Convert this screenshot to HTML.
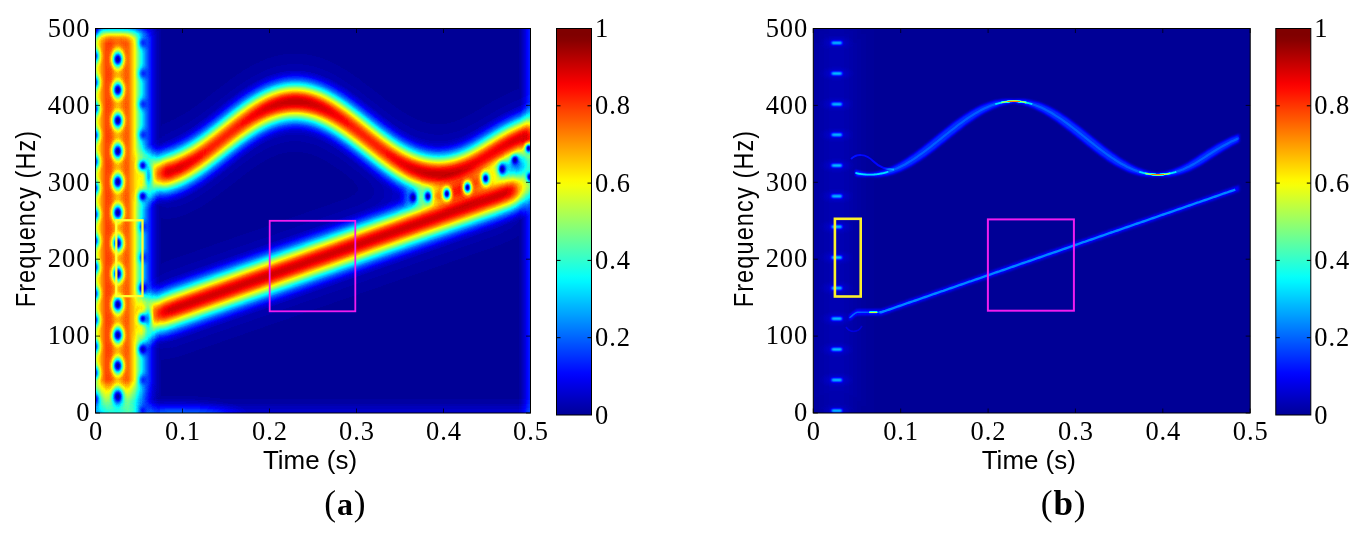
<!DOCTYPE html>
<html><head><meta charset="utf-8"><title>Figure</title>
<style>html,body{margin:0;padding:0;background:#fff}svg{display:block}.tk{font-family:"Liberation Serif",serif;font-size:26.5px;fill:#000;letter-spacing:0.9px}.lb{font-family:"Liberation Sans",sans-serif;font-size:26px;fill:#000}.cap{font-family:"Liberation Serif",serif;font-size:29px;fill:#000}</style></head><body>
<svg width="1366" height="537" viewBox="0 0 1366 537">
<defs>
<filter id="jetA" filterUnits="userSpaceOnUse" x="0" y="0" width="1366" height="537" color-interpolation-filters="sRGB">
<feComponentTransfer><feFuncR type="table" tableValues="0 0 0 0 0 0 0 0 0 0 0 0 0 0 0 0 0 0 0 0 0 0 0 0 0 0 0 0 0 0 0.001 0.048 0.095 0.142 0.189 0.236 0.283 0.331 0.378 0.425 0.472 0.519 0.566 0.613 0.66 0.707 0.754 0.801 0.848 0.895 0.942 0.989 1 1 1 1 1 1 1 1 1 1 1 1 1 1 1 1 1 1 1 1 1 0.977 0.929 0.882 0.835 0.788 0.741 0.694 0.647 0.6 0.553 0.506 0.5 0.5 0.5 0.5 0.5 0.5 0.5 0.5 0.5 0.5 0.5 0.5 0.5 0.5 0.5 0.5 0.5 0.5 0.5 0.5 0.5 0.5 0.5 0.5 0.5 0.5 0.5 0.5 0.5 0.5 0.5 0.5 0.5 0.5 0.5 0.5 0.5 0.5 0.5 0.5 0.5 0.5 0.5 0.5 0.5 0.5 0.5 0.5 0.5 0.5 0.5 0.5 0.5 0.5 0.5 0.5 0.5 0.5 0.5 0.5 0.5 0.5 0.5 0.5 0.5 0.5 0.5 0.5 0.5 0.5 0.5 0.5 0.5 0.5 0.5 0.5 0.5 0.5 0.5 0.5 0.5 0.5 0.5 0.5 0.5 0.5 0.5 0.5 0.5 0.5 0.5 0.5 0.5 0.5 0.5 0.5 0.5 0.5 0.5 0.5 0.5 0.5 0.5 0.5 0.5 0.5 0.5 0.5 0.5 0.5 0.5 0.5 0.5 0.5 0.5 0.5 0.5 0.5 0.5 0.5 0.5 0.5 0.5 0.5 0.5 0.5 0.5 0.5 0.5 0.5 0.5 0.5 0.5 0.5 0.5 0.5 0.5 0.5 0.5 0.5 0.5 0.5 0.5 0.5 0.5 0.5 0.5 0.5 0.5 0.5 0.5 0.5 0.5 0.5 0.5 0.5 0.5 0.5 0.5 0.5 0.5 0.5 0.5 0.5 0.5 0.5 0.5 0.5 0.5 0.5 0.5 0.5"/><feFuncG type="table" tableValues="0 0 0 0 0 0 0 0 0 0.014 0.061 0.108 0.155 0.202 0.249 0.296 0.343 0.39 0.437 0.484 0.531 0.578 0.625 0.672 0.719 0.766 0.813 0.86 0.907 0.954 1 1 1 1 1 1 1 1 1 1 1 1 1 1 1 1 1 1 1 1 1 1 0.964 0.917 0.87 0.823 0.776 0.729 0.682 0.635 0.588 0.541 0.494 0.447 0.4 0.353 0.306 0.259 0.212 0.165 0.118 0.071 0.024 0 0 0 0 0 0 0 0 0 0 0 0 0 0 0 0 0 0 0 0 0 0 0 0 0 0 0 0 0 0 0 0 0 0 0 0 0 0 0 0 0 0 0 0 0 0 0 0 0 0 0 0 0 0 0 0 0 0 0 0 0 0 0 0 0 0 0 0 0 0 0 0 0 0 0 0 0 0 0 0 0 0 0 0 0 0 0 0 0 0 0 0 0 0 0 0 0 0 0 0 0 0 0 0 0 0 0 0 0 0 0 0 0 0 0 0 0 0 0 0 0 0 0 0 0 0 0 0 0 0 0 0 0 0 0 0 0 0 0 0 0 0 0 0 0 0 0 0 0 0 0 0 0 0 0 0 0 0 0 0 0 0 0 0 0 0 0 0 0 0 0 0 0 0 0 0 0 0 0 0 0 0 0"/><feFuncB type="table" tableValues="0.591 0.638 0.685 0.732 0.779 0.826 0.873 0.92 0.967 1 1 1 1 1 1 1 1 1 1 1 1 1 1 1 1 1 1 1 1 1 0.999 0.952 0.905 0.858 0.811 0.764 0.717 0.669 0.622 0.575 0.528 0.481 0.434 0.387 0.34 0.293 0.246 0.199 0.152 0.105 0.058 0.011 0 0 0 0 0 0 0 0 0 0 0 0 0 0 0 0 0 0 0 0 0 0 0 0 0 0 0 0 0 0 0 0 0 0 0 0 0 0 0 0 0 0 0 0 0 0 0 0 0 0 0 0 0 0 0 0 0 0 0 0 0 0 0 0 0 0 0 0 0 0 0 0 0 0 0 0 0 0 0 0 0 0 0 0 0 0 0 0 0 0 0 0 0 0 0 0 0 0 0 0 0 0 0 0 0 0 0 0 0 0 0 0 0 0 0 0 0 0 0 0 0 0 0 0 0 0 0 0 0 0 0 0 0 0 0 0 0 0 0 0 0 0 0 0 0 0 0 0 0 0 0 0 0 0 0 0 0 0 0 0 0 0 0 0 0 0 0 0 0 0 0 0 0 0 0 0 0 0 0 0 0 0 0 0 0 0 0 0 0 0 0 0 0 0 0 0 0 0 0 0 0 0 0 0"/></feComponentTransfer></filter>
<filter id="jetB" filterUnits="userSpaceOnUse" x="0" y="0" width="1366" height="537" color-interpolation-filters="sRGB">
<feComponentTransfer><feFuncR type="table" tableValues="0 0 0 0 0 0 0 0 0 0 0 0 0 0 0 0 0 0 0 0 0 0 0 0 0 0 0 0 0 0 0 0 0 0 0 0 0 0 0 0 0 0 0 0 0 0 0 0 0 0 0 0 0 0 0 0 0 0 0 0 0 0 0 0 0 0 0 0 0 0 0 0 0 0 0 0 0 0 0 0 0 0 0 0 0 0 0 0 0 0 0.002 0.018 0.034 0.049 0.065 0.081 0.096 0.112 0.128 0.143 0.159 0.175 0.191 0.206 0.222 0.238 0.253 0.269 0.285 0.3 0.316 0.332 0.347 0.363 0.379 0.394 0.41 0.426 0.441 0.457 0.473 0.489 0.504 0.52 0.536 0.551 0.567 0.583 0.598 0.614 0.63 0.645 0.661 0.677 0.692 0.708 0.724 0.74 0.755 0.771 0.787 0.802 0.818 0.834 0.849 0.865 0.881 0.896 0.912 0.928 0.943 0.959 0.975 0.99 1 1 1 1 1 1 1 1 1 1 1 1 1 1 1 1 1 1 1 1 1 1 1 1 1 1 1 1 1 1 1 1 1 1 1 1 1 1 1 1 1 1 1 1 1 1 1 1 1 1 1 1 1 1 1 1 1 1 1 1 1 1 1 1 0.99 0.974 0.959 0.943 0.927 0.911 0.896 0.88 0.864 0.849 0.833 0.817 0.802 0.786 0.77 0.755 0.739 0.723 0.708 0.692 0.676 0.66 0.645 0.629 0.613 0.598 0.582 0.566 0.551 0.535 0.519 0.504 0.5 0.5 0.5 0.5 0.5 0.5"/><feFuncG type="table" tableValues="0 0 0 0 0 0 0 0 0 0 0 0 0 0 0 0 0 0 0 0 0 0 0 0 0 0 0 0.014 0.03 0.045 0.061 0.077 0.092 0.108 0.124 0.14 0.155 0.171 0.187 0.202 0.218 0.234 0.249 0.265 0.281 0.296 0.312 0.328 0.343 0.359 0.375 0.391 0.406 0.422 0.438 0.453 0.469 0.485 0.5 0.516 0.532 0.547 0.563 0.579 0.594 0.61 0.626 0.641 0.657 0.673 0.689 0.704 0.72 0.736 0.751 0.767 0.783 0.798 0.814 0.83 0.845 0.861 0.877 0.892 0.908 0.924 0.94 0.955 0.971 0.987 1 1 1 1 1 1 1 1 1 1 1 1 1 1 1 1 1 1 1 1 1 1 1 1 1 1 1 1 1 1 1 1 1 1 1 1 1 1 1 1 1 1 1 1 1 1 1 1 1 1 1 1 1 1 1 1 1 1 1 1 1 1 1 1 0.994 0.978 0.962 0.947 0.931 0.915 0.9 0.884 0.868 0.853 0.837 0.821 0.806 0.79 0.774 0.759 0.743 0.727 0.711 0.696 0.68 0.664 0.649 0.633 0.617 0.602 0.586 0.57 0.555 0.539 0.523 0.508 0.492 0.476 0.46 0.445 0.429 0.413 0.398 0.382 0.366 0.351 0.335 0.319 0.304 0.288 0.272 0.257 0.241 0.225 0.209 0.194 0.178 0.162 0.147 0.131 0.115 0.1 0.084 0.068 0.053 0.037 0.021 0.006 0 0 0 0 0 0 0 0 0 0 0 0 0 0 0 0 0 0 0 0 0 0 0 0 0 0 0 0 0 0 0 0 0 0 0 0 0 0"/><feFuncB type="table" tableValues="0.591 0.606 0.622 0.638 0.653 0.669 0.685 0.7 0.716 0.732 0.747 0.763 0.779 0.794 0.81 0.826 0.841 0.857 0.873 0.889 0.904 0.92 0.936 0.951 0.967 0.983 0.998 1 1 1 1 1 1 1 1 1 1 1 1 1 1 1 1 1 1 1 1 1 1 1 1 1 1 1 1 1 1 1 1 1 1 1 1 1 1 1 1 1 1 1 1 1 1 1 1 1 1 1 1 1 1 1 1 1 1 1 1 1 1 1 0.998 0.982 0.966 0.951 0.935 0.919 0.904 0.888 0.872 0.857 0.841 0.825 0.809 0.794 0.778 0.762 0.747 0.731 0.715 0.7 0.684 0.668 0.653 0.637 0.621 0.606 0.59 0.574 0.559 0.543 0.527 0.511 0.496 0.48 0.464 0.449 0.433 0.417 0.402 0.386 0.37 0.355 0.339 0.323 0.308 0.292 0.276 0.26 0.245 0.229 0.213 0.198 0.182 0.166 0.151 0.135 0.119 0.104 0.088 0.072 0.057 0.041 0.025 0.01 0 0 0 0 0 0 0 0 0 0 0 0 0 0 0 0 0 0 0 0 0 0 0 0 0 0 0 0 0 0 0 0 0 0 0 0 0 0 0 0 0 0 0 0 0 0 0 0 0 0 0 0 0 0 0 0 0 0 0 0 0 0 0 0 0 0 0 0 0 0 0 0 0 0 0 0 0 0 0 0 0 0 0 0 0 0 0 0 0 0 0 0 0 0 0 0 0 0 0 0 0 0"/></feComponentTransfer></filter>
<filter id="bR" filterUnits="userSpaceOnUse" x="0" y="-100" width="1366" height="737" color-interpolation-filters="sRGB"><feGaussianBlur stdDeviation="7.4 11.6"/></filter>
<filter id="bBand" filterUnits="userSpaceOnUse" x="0" y="-100" width="1366" height="737" color-interpolation-filters="sRGB"><feGaussianBlur stdDeviation="7.4 5.3"/></filter>
<filter id="bE" filterUnits="userSpaceOnUse" x="0" y="-100" width="1366" height="737" color-interpolation-filters="sRGB"><feGaussianBlur stdDeviation="4.5 7"/></filter>
<filter id="bS" filterUnits="userSpaceOnUse" x="0" y="-100" width="1366" height="737" color-interpolation-filters="sRGB"><feGaussianBlur stdDeviation="1.3 1"/></filter>
<filter id="bT" filterUnits="userSpaceOnUse" x="0" y="-100" width="1366" height="737" color-interpolation-filters="sRGB"><feGaussianBlur stdDeviation="0.7 0.6"/></filter>
<filter id="bG" filterUnits="userSpaceOnUse" x="0" y="-100" width="1366" height="737" color-interpolation-filters="sRGB"><feGaussianBlur stdDeviation="7 3.5"/></filter>
<filter id="bH" filterUnits="userSpaceOnUse" x="0" y="-100" width="1366" height="737" color-interpolation-filters="sRGB"><feGaussianBlur stdDeviation="14 20"/></filter>
<filter id="bF" filterUnits="userSpaceOnUse" x="0" y="-100" width="1366" height="737" color-interpolation-filters="sRGB"><feGaussianBlur stdDeviation="6 5"/></filter>
<linearGradient id="fadeB" x1="0" y1="0" x2="0" y2="1"><stop offset="0" stop-color="#000" stop-opacity="0"/><stop offset="0.3" stop-color="#000" stop-opacity="0.2"/><stop offset="1" stop-color="#000" stop-opacity="0.58"/></linearGradient>
<filter id="bW" filterUnits="userSpaceOnUse" x="0" y="-100" width="1366" height="737" color-interpolation-filters="sRGB"><feGaussianBlur stdDeviation="16 7"/></filter>
<radialGradient id="dot"><stop offset="0.0" stop-color="#000" stop-opacity="1.000"/><stop offset="0.1" stop-color="#000" stop-opacity="0.956"/><stop offset="0.2" stop-color="#000" stop-opacity="0.835"/><stop offset="0.3" stop-color="#000" stop-opacity="0.667"/><stop offset="0.4" stop-color="#000" stop-opacity="0.487"/><stop offset="0.5" stop-color="#000" stop-opacity="0.325"/><stop offset="0.6" stop-color="#000" stop-opacity="0.198"/><stop offset="0.7" stop-color="#000" stop-opacity="0.110"/><stop offset="0.8" stop-color="#000" stop-opacity="0.056"/><stop offset="0.9" stop-color="#000" stop-opacity="0.026"/><stop offset="1.0" stop-color="#000" stop-opacity="0.000"/></radialGradient>
<radialGradient id="dot2"><stop offset="0.0" stop-color="#000" stop-opacity="0.900"/><stop offset="0.1" stop-color="#000" stop-opacity="0.860"/><stop offset="0.2" stop-color="#000" stop-opacity="0.752"/><stop offset="0.3" stop-color="#000" stop-opacity="0.600"/><stop offset="0.4" stop-color="#000" stop-opacity="0.438"/><stop offset="0.5" stop-color="#000" stop-opacity="0.292"/><stop offset="0.6" stop-color="#000" stop-opacity="0.178"/><stop offset="0.7" stop-color="#000" stop-opacity="0.099"/><stop offset="0.8" stop-color="#000" stop-opacity="0.051"/><stop offset="0.9" stop-color="#000" stop-opacity="0.024"/><stop offset="1.0" stop-color="#000" stop-opacity="0.000"/></radialGradient>
<radialGradient id="dot3"><stop offset="0.0" stop-color="#000" stop-opacity="0.380"/><stop offset="0.1" stop-color="#000" stop-opacity="0.363"/><stop offset="0.2" stop-color="#000" stop-opacity="0.317"/><stop offset="0.3" stop-color="#000" stop-opacity="0.253"/><stop offset="0.4" stop-color="#000" stop-opacity="0.185"/><stop offset="0.5" stop-color="#000" stop-opacity="0.123"/><stop offset="0.6" stop-color="#000" stop-opacity="0.075"/><stop offset="0.7" stop-color="#000" stop-opacity="0.042"/><stop offset="0.8" stop-color="#000" stop-opacity="0.021"/><stop offset="0.9" stop-color="#000" stop-opacity="0.010"/><stop offset="1.0" stop-color="#000" stop-opacity="0.000"/></radialGradient>
<radialGradient id="dot4"><stop offset="0.0" stop-color="#000" stop-opacity="0.550"/><stop offset="0.1" stop-color="#000" stop-opacity="0.526"/><stop offset="0.2" stop-color="#000" stop-opacity="0.459"/><stop offset="0.3" stop-color="#000" stop-opacity="0.367"/><stop offset="0.4" stop-color="#000" stop-opacity="0.268"/><stop offset="0.5" stop-color="#000" stop-opacity="0.179"/><stop offset="0.6" stop-color="#000" stop-opacity="0.109"/><stop offset="0.7" stop-color="#000" stop-opacity="0.061"/><stop offset="0.8" stop-color="#000" stop-opacity="0.031"/><stop offset="0.9" stop-color="#000" stop-opacity="0.014"/><stop offset="1.0" stop-color="#000" stop-opacity="0.000"/></radialGradient>
<radialGradient id="dot5"><stop offset="0.0" stop-color="#000" stop-opacity="0.600"/><stop offset="0.1" stop-color="#000" stop-opacity="0.574"/><stop offset="0.2" stop-color="#000" stop-opacity="0.501"/><stop offset="0.3" stop-color="#000" stop-opacity="0.400"/><stop offset="0.4" stop-color="#000" stop-opacity="0.292"/><stop offset="0.5" stop-color="#000" stop-opacity="0.195"/><stop offset="0.6" stop-color="#000" stop-opacity="0.119"/><stop offset="0.7" stop-color="#000" stop-opacity="0.066"/><stop offset="0.8" stop-color="#000" stop-opacity="0.034"/><stop offset="0.9" stop-color="#000" stop-opacity="0.016"/><stop offset="1.0" stop-color="#000" stop-opacity="0.000"/></radialGradient>
<radialGradient id="dot6"><stop offset="0.0" stop-color="#000" stop-opacity="0.300"/><stop offset="0.1" stop-color="#000" stop-opacity="0.287"/><stop offset="0.2" stop-color="#000" stop-opacity="0.251"/><stop offset="0.3" stop-color="#000" stop-opacity="0.200"/><stop offset="0.4" stop-color="#000" stop-opacity="0.146"/><stop offset="0.5" stop-color="#000" stop-opacity="0.097"/><stop offset="0.6" stop-color="#000" stop-opacity="0.059"/><stop offset="0.7" stop-color="#000" stop-opacity="0.033"/><stop offset="0.8" stop-color="#000" stop-opacity="0.017"/><stop offset="0.9" stop-color="#000" stop-opacity="0.008"/><stop offset="1.0" stop-color="#000" stop-opacity="0.000"/></radialGradient>
<linearGradient id="cb" x1="0" y1="0" x2="0" y2="1"><stop offset="0.0000" stop-color="rgb(128,0,0)"/><stop offset="0.0156" stop-color="rgb(128,0,0)"/><stop offset="0.0312" stop-color="rgb(136,0,0)"/><stop offset="0.0469" stop-color="rgb(152,0,0)"/><stop offset="0.0625" stop-color="rgb(168,0,0)"/><stop offset="0.0781" stop-color="rgb(184,0,0)"/><stop offset="0.0938" stop-color="rgb(200,0,0)"/><stop offset="0.1094" stop-color="rgb(216,0,0)"/><stop offset="0.1250" stop-color="rgb(232,0,0)"/><stop offset="0.1406" stop-color="rgb(248,0,0)"/><stop offset="0.1562" stop-color="rgb(255,9,0)"/><stop offset="0.1719" stop-color="rgb(255,25,0)"/><stop offset="0.1875" stop-color="rgb(255,41,0)"/><stop offset="0.2031" stop-color="rgb(255,57,0)"/><stop offset="0.2188" stop-color="rgb(255,73,0)"/><stop offset="0.2344" stop-color="rgb(255,88,0)"/><stop offset="0.2500" stop-color="rgb(255,104,0)"/><stop offset="0.2656" stop-color="rgb(255,120,0)"/><stop offset="0.2812" stop-color="rgb(255,136,0)"/><stop offset="0.2969" stop-color="rgb(255,152,0)"/><stop offset="0.3125" stop-color="rgb(255,168,0)"/><stop offset="0.3281" stop-color="rgb(255,184,0)"/><stop offset="0.3438" stop-color="rgb(255,200,0)"/><stop offset="0.3594" stop-color="rgb(255,216,0)"/><stop offset="0.3750" stop-color="rgb(255,232,0)"/><stop offset="0.3906" stop-color="rgb(255,248,0)"/><stop offset="0.4062" stop-color="rgb(246,255,9)"/><stop offset="0.4219" stop-color="rgb(230,255,25)"/><stop offset="0.4375" stop-color="rgb(214,255,41)"/><stop offset="0.4531" stop-color="rgb(198,255,57)"/><stop offset="0.4688" stop-color="rgb(182,255,73)"/><stop offset="0.4844" stop-color="rgb(167,255,88)"/><stop offset="0.5000" stop-color="rgb(151,255,104)"/><stop offset="0.5156" stop-color="rgb(135,255,120)"/><stop offset="0.5312" stop-color="rgb(119,255,136)"/><stop offset="0.5469" stop-color="rgb(103,255,152)"/><stop offset="0.5625" stop-color="rgb(87,255,168)"/><stop offset="0.5781" stop-color="rgb(71,255,184)"/><stop offset="0.5938" stop-color="rgb(55,255,200)"/><stop offset="0.6094" stop-color="rgb(39,255,216)"/><stop offset="0.6250" stop-color="rgb(23,255,232)"/><stop offset="0.6406" stop-color="rgb(7,255,248)"/><stop offset="0.6562" stop-color="rgb(0,246,255)"/><stop offset="0.6719" stop-color="rgb(0,230,255)"/><stop offset="0.6875" stop-color="rgb(0,214,255)"/><stop offset="0.7031" stop-color="rgb(0,198,255)"/><stop offset="0.7188" stop-color="rgb(0,182,255)"/><stop offset="0.7344" stop-color="rgb(0,167,255)"/><stop offset="0.7500" stop-color="rgb(0,151,255)"/><stop offset="0.7656" stop-color="rgb(0,135,255)"/><stop offset="0.7812" stop-color="rgb(0,119,255)"/><stop offset="0.7969" stop-color="rgb(0,103,255)"/><stop offset="0.8125" stop-color="rgb(0,87,255)"/><stop offset="0.8281" stop-color="rgb(0,71,255)"/><stop offset="0.8438" stop-color="rgb(0,55,255)"/><stop offset="0.8594" stop-color="rgb(0,39,255)"/><stop offset="0.8750" stop-color="rgb(0,23,255)"/><stop offset="0.8906" stop-color="rgb(0,7,255)"/><stop offset="0.9062" stop-color="rgb(0,0,246)"/><stop offset="0.9219" stop-color="rgb(0,0,230)"/><stop offset="0.9375" stop-color="rgb(0,0,214)"/><stop offset="0.9531" stop-color="rgb(0,0,198)"/><stop offset="0.9688" stop-color="rgb(0,0,182)"/><stop offset="0.9844" stop-color="rgb(0,0,167)"/><stop offset="1.0000" stop-color="rgb(0,0,151)"/></linearGradient>
<clipPath id="clipA"><rect x="95.5" y="28.5" width="435" height="384.5"/></clipPath>
<clipPath id="clipB"><rect x="813.3" y="28.5" width="436.9" height="384.5"/></clipPath>
</defs>
<rect width="1366" height="537" fill="#fff"/>
<g clip-path="url(#clipA)"><g filter="url(#jetA)">
<rect x="60" y="0" width="520" height="450" fill="#000"/>
<g filter="url(#bE)" fill="#fff" fill-opacity="0.043">
<rect x="60" y="26" width="94" height="390"/>
</g>
<g filter="url(#bBand)"><rect x="94" y="31.7" width="44.4" height="393.3" fill="#fff" fill-opacity="0.238"/></g>
<g filter="url(#bE)" fill="#fff" fill-opacity="0.100">
<rect x="138" y="154.7" width="15" height="44"/>
<rect x="138" y="298.6" width="15" height="40"/>
</g>
<g filter="url(#bE)" fill="#fff">
<rect x="526" y="0" width="30" height="450" fill-opacity="0.053"/>
<rect x="523" y="150" width="30" height="42" fill-opacity="0.080"/>
<rect x="60" y="409" width="500" height="30" fill-opacity="0.027"/>
</g>
<g filter="url(#bH)" fill="#fff" fill-opacity="0.052">
<polygon points="153.5,159.7 156.5,159.5 159.5,159.2 162.5,158.7 165.5,158.0 168.5,157.2 171.5,156.3 174.5,155.2 177.5,154.0 180.5,152.6 183.5,151.1 186.5,149.5 189.5,147.8 192.5,146.0 195.5,144.0 198.5,142.0 201.5,139.9 204.5,137.7 207.5,135.5 210.5,133.2 213.5,130.9 216.5,128.5 219.5,126.1 222.5,123.7 225.5,121.3 228.5,118.9 231.5,116.5 234.5,114.1 237.5,111.8 240.5,109.5 243.5,107.3 246.5,105.1 249.5,103.1 252.5,101.1 255.5,99.2 258.5,97.4 261.5,95.7 264.5,94.2 267.5,92.7 270.5,91.4 273.5,90.2 276.5,89.2 279.5,88.3 282.5,87.6 285.5,87.0 288.5,86.6 291.5,86.3 294.5,86.2 297.5,86.3 300.5,86.5 303.5,86.8 306.5,87.3 309.5,88.0 312.5,88.8 315.5,89.8 318.5,90.9 321.5,92.2 324.5,93.6 327.5,95.1 330.5,96.7 333.5,98.5 336.5,100.3 339.5,102.3 342.5,104.3 345.5,106.4 348.5,108.6 351.5,110.9 354.5,113.2 357.5,115.5 360.5,117.9 363.5,120.3 366.5,122.7 369.5,125.1 372.5,127.5 375.5,129.9 378.5,132.3 381.5,134.6 384.5,136.8 387.5,139.1 390.5,141.2 393.5,143.2 396.5,145.2 399.5,147.1 402.5,148.9 405.5,150.5 408.5,152.0 411.5,153.5 414.5,154.7 417.5,155.9 420.5,156.9 423.5,157.7 426.5,158.4 429.5,159.0 432.5,159.4 435.5,159.6 438.5,159.7 441.5,159.6 444.5,159.4 447.5,159.0 450.5,158.4 453.5,157.7 456.5,156.9 459.5,155.9 462.5,154.7 465.5,153.5 468.5,152.0 471.5,150.5 474.5,148.9 477.5,147.1 480.5,145.2 483.5,143.3 486.5,141.3 489.5,139.4 492.5,137.5 495.5,135.6 498.5,133.8 501.5,132.1 504.5,130.4 507.5,128.8 510.5,127.2 513.5,125.8 516.5,124.4 519.5,123.1 522.5,121.9 525.5,120.7 528.5,119.5 531.5,118.3 534.5,117.1 537.5,115.9 540.5,114.7 543.5,113.6 546.5,112.4 549.5,111.2 552.5,110.1 555.5,109.0 558.5,107.9 561.5,106.8 564.5,105.7 567.5,104.6 570.5,103.6 573.5,102.6 573.5,132.6 570.5,133.6 567.5,134.6 564.5,135.7 561.5,136.8 558.5,137.9 555.5,139.0 552.5,140.1 549.5,141.2 546.5,142.4 543.5,143.6 540.5,144.7 537.5,145.9 534.5,147.1 531.5,148.3 528.5,149.5 525.5,150.7 522.5,151.9 519.5,153.1 516.5,154.4 513.5,155.8 510.5,157.2 507.5,158.8 504.5,160.4 501.5,162.1 498.5,163.8 495.5,165.6 492.5,167.5 489.5,169.4 486.5,171.3 483.5,173.3 480.5,175.2 477.5,177.1 474.5,178.9 471.5,180.5 468.5,182.0 465.5,183.5 462.5,184.7 459.5,185.9 456.5,186.9 453.5,187.7 450.5,188.4 447.5,189.0 444.5,189.4 441.5,189.6 438.5,189.7 435.5,189.6 432.5,189.4 429.5,189.0 426.5,188.4 423.5,187.7 420.5,186.9 417.5,185.9 414.5,184.7 411.5,183.5 408.5,182.0 405.5,180.5 402.5,178.9 399.5,177.1 396.5,175.2 393.5,173.2 390.5,171.2 387.5,169.1 384.5,166.8 381.5,164.6 378.5,162.3 375.5,159.9 372.5,157.5 369.5,155.1 366.5,152.7 363.5,150.3 360.5,147.9 357.5,145.5 354.5,143.2 351.5,140.9 348.5,138.6 345.5,136.4 342.5,134.3 339.5,132.3 336.5,130.3 333.5,128.5 330.5,126.7 327.5,125.1 324.5,123.6 321.5,122.2 318.5,120.9 315.5,119.8 312.5,118.8 309.5,118.0 306.5,117.3 303.5,116.8 300.5,116.5 297.5,116.3 294.5,116.2 291.5,116.3 288.5,116.6 285.5,117.0 282.5,117.6 279.5,118.3 276.5,119.2 273.5,120.2 270.5,121.4 267.5,122.7 264.5,124.2 261.5,125.7 258.5,127.4 255.5,129.2 252.5,131.1 249.5,133.1 246.5,135.1 243.5,137.3 240.5,139.5 237.5,141.8 234.5,144.1 231.5,146.5 228.5,148.9 225.5,151.3 222.5,153.7 219.5,156.1 216.5,158.5 213.5,160.9 210.5,163.2 207.5,165.5 204.5,167.7 201.5,169.9 198.5,172.0 195.5,174.0 192.5,176.0 189.5,177.8 186.5,179.5 183.5,181.1 180.5,182.6 177.5,184.0 174.5,185.2 171.5,186.3 168.5,187.2 165.5,188.0 162.5,188.7 159.5,189.2 156.5,189.5 153.5,189.7"/>
<polygon points="147.5,302.7 150.5,301.7 153.5,300.6 156.5,299.6 159.5,298.5 162.5,297.5 165.5,296.4 168.5,295.4 171.5,294.4 174.5,293.3 177.5,292.3 180.5,291.2 183.5,290.2 186.5,289.1 189.5,288.1 192.5,287.0 195.5,286.0 198.5,285.0 201.5,283.9 204.5,282.9 207.5,281.8 210.5,280.8 213.5,279.7 216.5,278.7 219.5,277.6 222.5,276.6 225.5,275.6 228.5,274.5 231.5,273.5 234.5,272.4 237.5,271.4 240.5,270.3 243.5,269.3 246.5,268.3 249.5,267.2 252.5,266.2 255.5,265.1 258.5,264.1 261.5,263.0 264.5,262.0 267.5,260.9 270.5,259.9 273.5,258.9 276.5,257.8 279.5,256.8 282.5,255.7 285.5,254.7 288.5,253.6 291.5,252.6 294.5,251.5 297.5,250.5 300.5,249.5 303.5,248.4 306.5,247.4 309.5,246.3 312.5,245.3 315.5,244.2 318.5,243.2 321.5,242.2 324.5,241.1 327.5,240.1 330.5,239.0 333.5,238.0 336.5,236.9 339.5,235.9 342.5,234.8 345.5,233.8 348.5,232.8 351.5,231.7 354.5,230.7 357.5,229.6 360.5,228.6 363.5,227.5 366.5,226.5 369.5,225.4 372.5,224.4 375.5,223.4 378.5,222.3 381.5,221.3 384.5,220.2 387.5,219.2 390.5,218.1 393.5,217.1 396.5,216.1 399.5,215.0 402.5,214.0 405.5,212.9 408.5,211.9 411.5,210.8 414.5,209.8 417.5,208.7 420.5,207.7 423.5,206.7 426.5,205.6 429.5,204.6 432.5,203.5 435.5,202.5 438.5,201.4 441.5,200.4 444.5,199.3 447.5,198.3 450.5,197.3 453.5,196.2 456.5,195.2 459.5,194.1 462.5,193.1 465.5,192.0 468.5,191.0 471.5,190.0 474.5,188.9 477.5,187.9 480.5,186.8 483.5,185.8 486.5,184.7 489.5,183.7 492.5,182.6 495.5,181.6 498.5,180.6 501.5,179.5 504.5,178.5 507.5,177.4 510.5,176.4 513.5,175.3 516.5,174.3 519.5,173.2 519.5,203.2 516.5,204.3 513.5,205.3 510.5,206.4 507.5,207.4 504.5,208.5 501.5,209.5 498.5,210.6 495.5,211.6 492.5,212.6 489.5,213.7 486.5,214.7 483.5,215.8 480.5,216.8 477.5,217.9 474.5,218.9 471.5,220.0 468.5,221.0 465.5,222.0 462.5,223.1 459.5,224.1 456.5,225.2 453.5,226.2 450.5,227.3 447.5,228.3 444.5,229.3 441.5,230.4 438.5,231.4 435.5,232.5 432.5,233.5 429.5,234.6 426.5,235.6 423.5,236.7 420.5,237.7 417.5,238.7 414.5,239.8 411.5,240.8 408.5,241.9 405.5,242.9 402.5,244.0 399.5,245.0 396.5,246.1 393.5,247.1 390.5,248.1 387.5,249.2 384.5,250.2 381.5,251.3 378.5,252.3 375.5,253.4 372.5,254.4 369.5,255.4 366.5,256.5 363.5,257.5 360.5,258.6 357.5,259.6 354.5,260.7 351.5,261.7 348.5,262.8 345.5,263.8 342.5,264.8 339.5,265.9 336.5,266.9 333.5,268.0 330.5,269.0 327.5,270.1 324.5,271.1 321.5,272.2 318.5,273.2 315.5,274.2 312.5,275.3 309.5,276.3 306.5,277.4 303.5,278.4 300.5,279.5 297.5,280.5 294.5,281.5 291.5,282.6 288.5,283.6 285.5,284.7 282.5,285.7 279.5,286.8 276.5,287.8 273.5,288.9 270.5,289.9 267.5,290.9 264.5,292.0 261.5,293.0 258.5,294.1 255.5,295.1 252.5,296.2 249.5,297.2 246.5,298.3 243.5,299.3 240.5,300.3 237.5,301.4 234.5,302.4 231.5,303.5 228.5,304.5 225.5,305.6 222.5,306.6 219.5,307.6 216.5,308.7 213.5,309.7 210.5,310.8 207.5,311.8 204.5,312.9 201.5,313.9 198.5,315.0 195.5,316.0 192.5,317.0 189.5,318.1 186.5,319.1 183.5,320.2 180.5,321.2 177.5,322.3 174.5,323.3 171.5,324.4 168.5,325.4 165.5,326.4 162.5,327.5 159.5,328.5 156.5,329.6 153.5,330.6 150.5,331.7 147.5,332.7"/>
</g>
<g filter="url(#bR)" fill="#fff" fill-opacity="0.862">
<polygon points="151.5,169.7 154.5,169.6 157.5,169.4 160.5,169.0 163.5,168.5 166.5,167.8 169.5,166.9 172.5,166.0 175.5,164.8 178.5,163.5 181.5,162.1 184.5,160.6 187.5,159.0 190.5,157.2 193.5,155.3 196.5,153.4 199.5,151.3 202.5,149.2 205.5,147.0 208.5,144.7 211.5,142.4 214.5,140.1 217.5,137.7 220.5,135.3 223.5,132.9 226.5,130.5 229.5,128.1 232.5,125.7 235.5,123.3 238.5,121.0 241.5,118.8 244.5,116.6 247.5,114.4 250.5,112.4 253.5,110.4 256.5,108.6 259.5,106.8 262.5,105.2 265.5,103.7 268.5,102.3 271.5,101.0 274.5,99.9 277.5,98.9 280.5,98.1 283.5,97.4 286.5,96.9 289.5,96.5 292.5,96.3 295.5,96.2 298.5,96.3 301.5,96.6 304.5,97.0 307.5,97.5 310.5,98.3 313.5,99.1 316.5,100.2 319.5,101.3 322.5,102.6 325.5,104.1 328.5,105.6 331.5,107.3 334.5,109.1 337.5,110.9 340.5,112.9 343.5,115.0 346.5,117.1 349.5,119.4 352.5,121.6 355.5,123.9 358.5,126.3 361.5,128.7 364.5,131.1 367.5,133.5 370.5,135.9 373.5,138.3 376.5,140.7 379.5,143.0 382.5,145.3 385.5,147.6 388.5,149.8 391.5,151.9 394.5,153.9 397.5,155.8 400.5,157.7 403.5,159.4 406.5,161.0 409.5,162.5 412.5,163.9 415.5,165.1 418.5,166.2 421.5,167.2 424.5,168.0 427.5,168.6 430.5,169.1 433.5,169.5 436.5,169.7 439.5,169.7 442.5,169.6 445.5,169.3 448.5,168.8 451.5,168.2 454.5,167.5 457.5,166.6 460.5,165.5 463.5,164.3 466.5,163.0 469.5,161.5 472.5,160.0 475.5,158.3 478.5,156.5 481.5,154.6 484.5,152.6 487.5,150.7 490.5,148.8 493.5,146.9 496.5,145.0 499.5,143.2 502.5,141.5 505.5,139.8 508.5,138.2 511.5,136.7 514.5,135.3 517.5,134.0 520.5,132.7 523.5,131.5 526.5,130.3 529.5,129.1 532.5,127.9 535.5,126.7 538.5,125.5 541.5,124.3 544.5,123.2 547.5,122.0 550.5,120.9 553.5,119.7 556.5,118.6 559.5,117.5 562.5,116.4 565.5,115.3 568.5,114.3 571.5,113.3 574.5,112.3 574.5,122.3 571.5,123.3 568.5,124.3 565.5,125.3 562.5,126.4 559.5,127.5 556.5,128.6 553.5,129.7 550.5,130.9 547.5,132.0 544.5,133.2 541.5,134.3 538.5,135.5 535.5,136.7 532.5,137.9 529.5,139.1 526.5,140.3 523.5,141.5 520.5,142.7 517.5,144.0 514.5,145.3 511.5,146.7 508.5,148.2 505.5,149.8 502.5,151.5 499.5,153.2 496.5,155.0 493.5,156.9 490.5,158.8 487.5,160.7 484.5,162.6 481.5,164.6 478.5,166.5 475.5,168.3 472.5,170.0 469.5,171.5 466.5,173.0 463.5,174.3 460.5,175.5 457.5,176.6 454.5,177.5 451.5,178.2 448.5,178.8 445.5,179.3 442.5,179.6 439.5,179.7 436.5,179.7 433.5,179.5 430.5,179.1 427.5,178.6 424.5,178.0 421.5,177.2 418.5,176.2 415.5,175.1 412.5,173.9 409.5,172.5 406.5,171.0 403.5,169.4 400.5,167.7 397.5,165.8 394.5,163.9 391.5,161.9 388.5,159.8 385.5,157.6 382.5,155.3 379.5,153.0 376.5,150.7 373.5,148.3 370.5,145.9 367.5,143.5 364.5,141.1 361.5,138.7 358.5,136.3 355.5,133.9 352.5,131.6 349.5,129.4 346.5,127.1 343.5,125.0 340.5,122.9 337.5,120.9 334.5,119.1 331.5,117.3 328.5,115.6 325.5,114.1 322.5,112.6 319.5,111.3 316.5,110.2 313.5,109.1 310.5,108.3 307.5,107.5 304.5,107.0 301.5,106.6 298.5,106.3 295.5,106.2 292.5,106.3 289.5,106.5 286.5,106.9 283.5,107.4 280.5,108.1 277.5,108.9 274.5,109.9 271.5,111.0 268.5,112.3 265.5,113.7 262.5,115.2 259.5,116.8 256.5,118.6 253.5,120.4 250.5,122.4 247.5,124.4 244.5,126.6 241.5,128.8 238.5,131.0 235.5,133.3 232.5,135.7 229.5,138.1 226.5,140.5 223.5,142.9 220.5,145.3 217.5,147.7 214.5,150.1 211.5,152.4 208.5,154.7 205.5,157.0 202.5,159.2 199.5,161.3 196.5,163.4 193.5,165.3 190.5,167.2 187.5,169.0 184.5,170.6 181.5,172.1 178.5,173.5 175.5,174.8 172.5,176.0 169.5,176.9 166.5,177.8 163.5,178.5 160.5,179.0 157.5,179.4 154.5,179.6 151.5,179.7"/>
<polygon points="149.5,312.0 152.5,311.0 155.5,309.9 158.5,308.9 161.5,307.8 164.5,306.8 167.5,305.7 170.5,304.7 173.5,303.7 176.5,302.6 179.5,301.6 182.5,300.5 185.5,299.5 188.5,298.4 191.5,297.4 194.5,296.3 197.5,295.3 200.5,294.3 203.5,293.2 206.5,292.2 209.5,291.1 212.5,290.1 215.5,289.0 218.5,288.0 221.5,287.0 224.5,285.9 227.5,284.9 230.5,283.8 233.5,282.8 236.5,281.7 239.5,280.7 242.5,279.6 245.5,278.6 248.5,277.6 251.5,276.5 254.5,275.5 257.5,274.4 260.5,273.4 263.5,272.3 266.5,271.3 269.5,270.2 272.5,269.2 275.5,268.2 278.5,267.1 281.5,266.1 284.5,265.0 287.5,264.0 290.5,262.9 293.5,261.9 296.5,260.9 299.5,259.8 302.5,258.8 305.5,257.7 308.5,256.7 311.5,255.6 314.5,254.6 317.5,253.5 320.5,252.5 323.5,251.5 326.5,250.4 329.5,249.4 332.5,248.3 335.5,247.3 338.5,246.2 341.5,245.2 344.5,244.1 347.5,243.1 350.5,242.1 353.5,241.0 356.5,240.0 359.5,238.9 362.5,237.9 365.5,236.8 368.5,235.8 371.5,234.8 374.5,233.7 377.5,232.7 380.5,231.6 383.5,230.6 386.5,229.5 389.5,228.5 392.5,227.4 395.5,226.4 398.5,225.4 401.5,224.3 404.5,223.3 407.5,222.2 410.5,221.2 413.5,220.1 416.5,219.1 419.5,218.0 422.5,217.0 425.5,216.0 428.5,214.9 431.5,213.9 434.5,212.8 437.5,211.8 440.5,210.7 443.5,209.7 446.5,208.7 449.5,207.6 452.5,206.6 455.5,205.5 458.5,204.5 461.5,203.4 464.5,202.4 467.5,201.3 470.5,200.3 473.5,199.3 476.5,198.2 479.5,197.2 482.5,196.1 485.5,195.1 488.5,194.0 491.5,193.0 494.5,191.9 497.5,190.9 500.5,189.9 503.5,188.8 506.5,187.8 509.5,186.7 512.5,185.7 515.5,184.6 518.5,183.6 521.5,182.6 524.5,181.5 524.5,191.5 521.5,192.6 518.5,193.6 515.5,194.6 512.5,195.7 509.5,196.7 506.5,197.8 503.5,198.8 500.5,199.9 497.5,200.9 494.5,201.9 491.5,203.0 488.5,204.0 485.5,205.1 482.5,206.1 479.5,207.2 476.5,208.2 473.5,209.3 470.5,210.3 467.5,211.3 464.5,212.4 461.5,213.4 458.5,214.5 455.5,215.5 452.5,216.6 449.5,217.6 446.5,218.7 443.5,219.7 440.5,220.7 437.5,221.8 434.5,222.8 431.5,223.9 428.5,224.9 425.5,226.0 422.5,227.0 419.5,228.0 416.5,229.1 413.5,230.1 410.5,231.2 407.5,232.2 404.5,233.3 401.5,234.3 398.5,235.4 395.5,236.4 392.5,237.4 389.5,238.5 386.5,239.5 383.5,240.6 380.5,241.6 377.5,242.7 374.5,243.7 371.5,244.8 368.5,245.8 365.5,246.8 362.5,247.9 359.5,248.9 356.5,250.0 353.5,251.0 350.5,252.1 347.5,253.1 344.5,254.1 341.5,255.2 338.5,256.2 335.5,257.3 332.5,258.3 329.5,259.4 326.5,260.4 323.5,261.5 320.5,262.5 317.5,263.5 314.5,264.6 311.5,265.6 308.5,266.7 305.5,267.7 302.5,268.8 299.5,269.8 296.5,270.9 293.5,271.9 290.5,272.9 287.5,274.0 284.5,275.0 281.5,276.1 278.5,277.1 275.5,278.2 272.5,279.2 269.5,280.2 266.5,281.3 263.5,282.3 260.5,283.4 257.5,284.4 254.5,285.5 251.5,286.5 248.5,287.6 245.5,288.6 242.5,289.6 239.5,290.7 236.5,291.7 233.5,292.8 230.5,293.8 227.5,294.9 224.5,295.9 221.5,297.0 218.5,298.0 215.5,299.0 212.5,300.1 209.5,301.1 206.5,302.2 203.5,303.2 200.5,304.3 197.5,305.3 194.5,306.3 191.5,307.4 188.5,308.4 185.5,309.5 182.5,310.5 179.5,311.6 176.5,312.6 173.5,313.7 170.5,314.7 167.5,315.7 164.5,316.8 161.5,317.8 158.5,318.9 155.5,319.9 152.5,321.0 149.5,322.0"/>
</g>
<g filter="url(#bF)" fill="none" stroke="#fff" stroke-linecap="round">
<path d="M411.5,197.1 L414.5,197.3 L417.5,197.3 L420.5,197.3 L423.5,197.2 L426.5,197.0 L429.5,196.8 L432.5,196.5 L435.5,196.1 L438.5,195.6 L441.5,195.0 L444.5,194.4 L447.5,193.6 L450.5,192.8 L453.5,192.0 L456.5,191.0 L459.5,190.0 L462.5,188.9 L465.5,187.7 L468.5,186.5 L471.5,185.2 L474.5,183.9 L477.5,182.5 L480.5,181.0 L483.5,179.5 L486.5,178.0 L489.5,176.6 L492.5,175.1 L495.5,173.6 L498.5,172.2" stroke-width="9" stroke-opacity="0.120"/>
<path d="M432.5,196.5 L435.5,196.1 L438.5,195.6 L441.5,195.0 L444.5,194.4 L447.5,193.6 L450.5,192.8 L453.5,192.0 L456.5,191.0 L459.5,190.0 L462.5,188.9 L465.5,187.7 L468.5,186.5 L471.5,185.2 L474.5,183.9 L477.5,182.5 L480.5,181.0 L483.5,179.5 L486.5,178.0" stroke-width="7" stroke-opacity="0.053"/>
</g>
<rect x="90" y="380" width="70" height="34" fill="url(#fadeB)"/>
<g filter="url(#bW)" fill="#fff" fill-opacity="0.073"><ellipse cx="175" cy="417" rx="60" ry="9"/></g>
<ellipse cx="117.8" cy="59.3" rx="9.6" ry="13.8" fill="url(#dot)"/>
<ellipse cx="117.8" cy="59.3" rx="12.9" ry="27.0" fill="url(#dot3)"/>
<ellipse cx="117.8" cy="89.9" rx="9.6" ry="13.8" fill="url(#dot)"/>
<ellipse cx="117.8" cy="89.9" rx="12.9" ry="27.0" fill="url(#dot3)"/>
<ellipse cx="117.8" cy="120.6" rx="9.6" ry="13.8" fill="url(#dot)"/>
<ellipse cx="117.8" cy="120.6" rx="12.9" ry="27.0" fill="url(#dot3)"/>
<ellipse cx="117.8" cy="151.2" rx="9.6" ry="13.8" fill="url(#dot)"/>
<ellipse cx="117.8" cy="151.2" rx="12.9" ry="27.0" fill="url(#dot3)"/>
<ellipse cx="117.8" cy="181.9" rx="9.6" ry="13.8" fill="url(#dot)"/>
<ellipse cx="117.8" cy="181.9" rx="12.9" ry="27.0" fill="url(#dot3)"/>
<ellipse cx="117.8" cy="212.6" rx="9.6" ry="13.8" fill="url(#dot)"/>
<ellipse cx="117.8" cy="212.6" rx="12.9" ry="27.0" fill="url(#dot3)"/>
<ellipse cx="117.8" cy="243.2" rx="9.6" ry="13.8" fill="url(#dot)"/>
<ellipse cx="117.8" cy="243.2" rx="12.9" ry="27.0" fill="url(#dot3)"/>
<ellipse cx="117.8" cy="273.8" rx="9.6" ry="13.8" fill="url(#dot)"/>
<ellipse cx="117.8" cy="273.8" rx="12.9" ry="27.0" fill="url(#dot3)"/>
<ellipse cx="117.8" cy="304.5" rx="9.6" ry="13.8" fill="url(#dot)"/>
<ellipse cx="117.8" cy="304.5" rx="12.9" ry="27.0" fill="url(#dot3)"/>
<ellipse cx="117.8" cy="335.1" rx="9.6" ry="13.8" fill="url(#dot)"/>
<ellipse cx="117.8" cy="335.1" rx="12.9" ry="27.0" fill="url(#dot3)"/>
<ellipse cx="117.8" cy="365.8" rx="9.6" ry="13.8" fill="url(#dot)"/>
<ellipse cx="117.8" cy="365.8" rx="12.9" ry="27.0" fill="url(#dot3)"/>
<ellipse cx="117.8" cy="396.4" rx="9.6" ry="13.8" fill="url(#dot)"/>
<ellipse cx="117.8" cy="396.4" rx="12.9" ry="27.0" fill="url(#dot3)"/>
<ellipse cx="94.0" cy="29.6" rx="10.2" ry="13.2" fill="url(#dot2)"/>
<ellipse cx="94.0" cy="372.8" rx="10.2" ry="13.2" fill="url(#dot2)"/>
<ellipse cx="142.7" cy="42.9" rx="9.0" ry="11.4" fill="url(#dot4)"/>
<ellipse cx="94.0" cy="56.0" rx="10.2" ry="13.2" fill="url(#dot2)"/>
<ellipse cx="94.0" cy="399.2" rx="10.2" ry="13.2" fill="url(#dot2)"/>
<ellipse cx="142.7" cy="73.5" rx="9.0" ry="11.4" fill="url(#dot4)"/>
<ellipse cx="94.0" cy="82.4" rx="10.2" ry="13.2" fill="url(#dot2)"/>
<ellipse cx="94.0" cy="425.6" rx="10.2" ry="13.2" fill="url(#dot2)"/>
<ellipse cx="142.7" cy="104.2" rx="9.0" ry="11.4" fill="url(#dot4)"/>
<ellipse cx="94.0" cy="108.8" rx="10.2" ry="13.2" fill="url(#dot2)"/>
<ellipse cx="94.0" cy="452.0" rx="10.2" ry="13.2" fill="url(#dot2)"/>
<ellipse cx="142.7" cy="134.8" rx="9.0" ry="11.4" fill="url(#dot4)"/>
<ellipse cx="94.0" cy="135.2" rx="10.2" ry="13.2" fill="url(#dot2)"/>
<ellipse cx="94.0" cy="478.4" rx="10.2" ry="13.2" fill="url(#dot2)"/>
<ellipse cx="142.7" cy="165.5" rx="9.0" ry="11.4" fill="url(#dot2)"/>
<ellipse cx="94.0" cy="161.6" rx="10.2" ry="13.2" fill="url(#dot2)"/>
<ellipse cx="94.0" cy="504.8" rx="10.2" ry="13.2" fill="url(#dot2)"/>
<ellipse cx="142.7" cy="196.2" rx="9.0" ry="11.4" fill="url(#dot2)"/>
<ellipse cx="94.0" cy="188.0" rx="10.2" ry="13.2" fill="url(#dot2)"/>
<ellipse cx="94.0" cy="531.2" rx="10.2" ry="13.2" fill="url(#dot2)"/>
<ellipse cx="142.7" cy="226.8" rx="9.0" ry="11.4" fill="url(#dot4)"/>
<ellipse cx="94.0" cy="214.4" rx="10.2" ry="13.2" fill="url(#dot2)"/>
<ellipse cx="94.0" cy="557.6" rx="10.2" ry="13.2" fill="url(#dot2)"/>
<ellipse cx="142.7" cy="257.4" rx="9.0" ry="11.4" fill="url(#dot4)"/>
<ellipse cx="94.0" cy="240.8" rx="10.2" ry="13.2" fill="url(#dot2)"/>
<ellipse cx="94.0" cy="584.0" rx="10.2" ry="13.2" fill="url(#dot2)"/>
<ellipse cx="142.7" cy="288.1" rx="9.0" ry="11.4" fill="url(#dot2)"/>
<ellipse cx="94.0" cy="267.2" rx="10.2" ry="13.2" fill="url(#dot2)"/>
<ellipse cx="94.0" cy="610.4" rx="10.2" ry="13.2" fill="url(#dot2)"/>
<ellipse cx="142.7" cy="318.7" rx="9.0" ry="11.4" fill="url(#dot2)"/>
<ellipse cx="94.0" cy="293.6" rx="10.2" ry="13.2" fill="url(#dot2)"/>
<ellipse cx="94.0" cy="636.8" rx="10.2" ry="13.2" fill="url(#dot2)"/>
<ellipse cx="142.7" cy="349.4" rx="9.0" ry="11.4" fill="url(#dot2)"/>
<ellipse cx="94.0" cy="320.0" rx="10.2" ry="13.2" fill="url(#dot2)"/>
<ellipse cx="94.0" cy="663.2" rx="10.2" ry="13.2" fill="url(#dot2)"/>
<ellipse cx="142.7" cy="380.0" rx="9.0" ry="11.4" fill="url(#dot4)"/>
<ellipse cx="94.0" cy="346.4" rx="10.2" ry="13.2" fill="url(#dot2)"/>
<ellipse cx="94.0" cy="689.6" rx="10.2" ry="13.2" fill="url(#dot2)"/>
<ellipse cx="142.7" cy="410.7" rx="9.0" ry="11.4" fill="url(#dot4)"/>
<ellipse cx="148.8" cy="175.7" rx="9.0" ry="28.5" fill="url(#dot5)"/>
<ellipse cx="148.3" cy="318.7" rx="9.0" ry="28.5" fill="url(#dot5)"/>
<ellipse cx="534.0" cy="124.0" rx="15.0" ry="39.0" fill="url(#dot6)"/>
<ellipse cx="413.0" cy="197.4" rx="8.1" ry="12.0" fill="url(#dot)"/>
<ellipse cx="427.9" cy="196.4" rx="8.1" ry="12.0" fill="url(#dot)"/>
<ellipse cx="446.9" cy="193.8" rx="8.1" ry="12.0" fill="url(#dot)"/>
<ellipse cx="467.5" cy="187.5" rx="8.1" ry="12.0" fill="url(#dot)"/>
<ellipse cx="485.6" cy="178.5" rx="8.1" ry="12.0" fill="url(#dot)"/>
<ellipse cx="502.2" cy="169.1" rx="8.1" ry="12.0" fill="url(#dot)"/>
<ellipse cx="514.9" cy="160.1" rx="7.2" ry="9.6" fill="url(#dot)"/>
<ellipse cx="528.6" cy="148.3" rx="7.2" ry="9.6" fill="url(#dot)"/>
<ellipse cx="530.0" cy="177.0" rx="7.2" ry="9.6" fill="url(#dot)"/>
</g></g>
<g clip-path="url(#clipB)"><g filter="url(#jetB)">
<rect x="780" y="0" width="520" height="450" fill="#000"/>
<g filter="url(#bH)" fill="#fff" fill-opacity="0.035"><rect x="819.3" y="20" width="34" height="400"/></g>
<g filter="url(#bG)" fill="#fff" fill-opacity="0.15">
<rect x="827.8" y="41.4" width="18" height="3"/>
<rect x="827.8" y="72.0" width="18" height="3"/>
<rect x="827.8" y="102.7" width="18" height="3"/>
<rect x="827.8" y="133.3" width="18" height="3"/>
<rect x="827.8" y="164.0" width="18" height="3"/>
<rect x="827.8" y="194.7" width="18" height="3"/>
<rect x="827.8" y="225.3" width="18" height="3"/>
<rect x="827.8" y="255.9" width="18" height="3"/>
<rect x="827.8" y="286.6" width="18" height="3"/>
<rect x="827.8" y="317.2" width="18" height="3"/>
<rect x="827.8" y="347.9" width="18" height="3"/>
<rect x="827.8" y="378.5" width="18" height="3"/>
<rect x="827.8" y="409.2" width="18" height="3"/>
</g>
<g filter="url(#bS)" fill="#fff" fill-opacity="0.30">
<rect x="831.5" y="41.5" width="10.5" height="2.8"/>
<rect x="831.5" y="72.1" width="10.5" height="2.8"/>
<rect x="831.5" y="102.8" width="10.5" height="2.8"/>
<rect x="831.5" y="133.4" width="10.5" height="2.8"/>
<rect x="831.5" y="164.1" width="10.5" height="2.8"/>
<rect x="831.5" y="194.8" width="10.5" height="2.8"/>
<rect x="831.5" y="225.4" width="10.5" height="2.8"/>
<rect x="831.5" y="256.1" width="10.5" height="2.8"/>
<rect x="831.5" y="286.7" width="10.5" height="2.8"/>
<rect x="831.5" y="317.3" width="10.5" height="2.8"/>
<rect x="831.5" y="348.0" width="10.5" height="2.8"/>
<rect x="831.5" y="378.6" width="10.5" height="2.8"/>
<rect x="831.5" y="409.3" width="10.5" height="2.8"/>
</g>
<g filter="url(#bS)" fill="#fff" stroke="none">
<polygon points="855.3,169.8 857.3,170.4 859.3,171.0 861.3,171.5 863.3,172.0 865.3,172.4 867.3,172.7 869.3,173.0 871.3,172.8 873.3,172.5 875.3,172.2 877.3,171.7 879.3,171.3 881.3,170.7 883.3,170.1 885.3,169.4 887.3,168.6 889.3,167.8 891.3,166.9 893.3,166.0 895.3,165.0 897.3,164.0 899.3,162.9 901.3,161.7 903.3,160.5 905.3,159.3 907.3,158.0 909.3,156.6 911.3,155.3 913.3,153.9 915.3,152.4 917.3,151.0 919.3,149.5 921.3,148.0 923.3,146.4 925.3,144.8 927.3,143.3 929.3,141.7 931.3,140.1 933.3,138.5 935.3,136.8 937.3,135.2 939.3,133.6 941.3,132.0 943.3,130.4 945.3,128.8 947.3,127.2 949.3,125.7 951.3,124.1 953.3,122.6 955.3,121.1 957.3,119.7 959.3,118.3 961.3,116.9 963.3,115.5 965.3,114.2 967.3,112.9 969.3,111.7 971.3,110.5 973.3,109.4 975.3,108.3 977.3,107.2 979.3,106.3 981.3,105.3 983.3,104.5 985.3,103.7 987.3,102.9 989.3,102.3 991.3,101.7 993.3,101.1 995.3,100.6 997.3,100.2 999.3,99.9 1001.3,99.6 1003.3,99.4 1005.3,99.3 1007.3,99.2 1009.3,99.2 1011.3,99.3 1013.3,99.5 1015.3,99.4 1017.3,99.3 1019.3,99.2 1021.3,99.2 1023.3,99.3 1025.3,99.5 1027.3,99.7 1029.3,100.1 1031.3,100.4 1033.3,100.9 1035.3,101.4 1037.3,102.0 1039.3,102.6 1041.3,103.3 1043.3,104.1 1045.3,104.9 1047.3,105.8 1049.3,106.8 1051.3,107.8 1053.3,108.8 1055.3,109.9 1057.3,111.1 1059.3,112.3 1061.3,113.6 1063.3,114.9 1065.3,116.2 1067.3,117.6 1069.3,119.0 1071.3,120.4 1073.3,121.9 1075.3,123.4 1077.3,125.0 1079.3,126.5 1081.3,128.1 1083.3,129.7 1085.3,131.3 1087.3,132.9 1089.3,134.5 1091.3,136.1 1093.3,137.7 1095.3,139.3 1097.3,140.9 1099.3,142.5 1101.3,144.1 1103.3,145.7 1105.3,147.2 1107.3,148.8 1109.3,150.3 1111.3,151.7 1113.3,153.2 1115.3,154.6 1117.3,156.0 1119.3,157.4 1121.3,158.7 1123.3,159.9 1125.3,161.1 1127.3,162.3 1129.3,163.4 1131.3,164.5 1133.3,165.5 1135.3,166.5 1137.3,167.4 1139.3,168.2 1141.3,169.0 1143.3,169.7 1145.3,170.4 1147.3,171.0 1149.3,171.5 1151.3,172.0 1153.3,172.4 1155.3,172.7 1157.3,172.9 1159.3,172.8 1161.3,172.5 1163.3,172.2 1165.3,171.8 1167.3,171.3 1169.3,170.7 1171.3,170.1 1173.3,169.4 1175.3,168.6 1177.3,167.8 1179.3,166.9 1181.3,166.0 1183.3,165.0 1185.3,164.0 1187.3,162.9 1189.3,161.7 1191.3,160.5 1193.3,159.3 1195.3,158.0 1197.3,156.7 1199.3,155.3 1201.3,154.0 1203.3,152.7 1205.3,151.4 1207.3,150.1 1209.3,148.9 1211.3,147.7 1213.3,146.5 1215.3,145.3 1217.3,144.1 1219.3,143.0 1221.3,142.0 1223.3,140.9 1225.3,139.9 1227.3,139.0 1229.3,138.0 1231.3,137.1 1233.3,136.3 1235.3,135.5 1237.3,134.7 1239.3,134.0 1239.3,142.1 1237.3,143.1 1235.3,144.1 1233.3,145.1 1231.3,146.1 1229.3,147.2 1227.3,148.4 1225.3,149.5 1223.3,150.7 1221.3,151.9 1219.3,153.2 1217.3,154.4 1215.3,155.7 1213.3,157.0 1211.3,158.3 1209.3,159.6 1207.3,160.9 1205.3,162.2 1203.3,163.5 1201.3,164.8 1199.3,166.0 1197.3,167.1 1195.3,168.1 1193.3,169.1 1191.3,170.1 1189.3,171.0 1187.3,171.8 1185.3,172.6 1183.3,173.3 1181.3,173.9 1179.3,174.5 1177.3,175.0 1175.3,175.5 1173.3,175.8 1171.3,176.2 1169.3,176.4 1167.3,176.6 1165.3,176.7 1163.3,176.7 1161.3,176.6 1159.3,176.5 1157.3,176.4 1155.3,176.6 1153.3,176.7 1151.3,176.7 1149.3,176.6 1147.3,176.5 1145.3,176.3 1143.3,176.0 1141.3,175.7 1139.3,175.3 1137.3,174.8 1135.3,174.2 1133.3,173.6 1131.3,172.9 1129.3,172.2 1127.3,171.4 1125.3,170.5 1123.3,169.6 1121.3,168.6 1119.3,167.6 1117.3,166.5 1115.3,165.4 1113.3,164.2 1111.3,163.0 1109.3,161.7 1107.3,160.4 1105.3,159.0 1103.3,157.6 1101.3,156.2 1099.3,154.7 1097.3,153.2 1095.3,151.7 1093.3,150.2 1091.3,148.6 1089.3,147.1 1087.3,145.5 1085.3,143.9 1083.3,142.3 1081.3,140.6 1079.3,139.0 1077.3,137.4 1075.3,135.8 1073.3,134.2 1071.3,132.6 1069.3,131.0 1067.3,129.5 1065.3,127.9 1063.3,126.4 1061.3,124.9 1059.3,123.4 1057.3,122.0 1055.3,120.6 1053.3,119.2 1051.3,117.9 1049.3,116.6 1047.3,115.4 1045.3,114.2 1043.3,113.0 1041.3,111.9 1039.3,110.9 1037.3,109.9 1035.3,109.0 1033.3,108.1 1031.3,107.3 1029.3,106.5 1027.3,105.8 1025.3,105.2 1023.3,104.6 1021.3,104.1 1019.3,103.7 1017.3,103.4 1015.3,103.1 1013.3,102.9 1011.3,103.2 1009.3,103.5 1007.3,103.9 1005.3,104.4 1003.3,104.9 1001.3,105.5 999.3,106.1 997.3,106.9 995.3,107.7 993.3,108.5 991.3,109.4 989.3,110.4 987.3,111.4 985.3,112.4 983.3,113.6 981.3,114.7 979.3,116.0 977.3,117.2 975.3,118.5 973.3,119.9 971.3,121.3 969.3,122.7 967.3,124.1 965.3,125.6 963.3,127.1 961.3,128.7 959.3,130.2 957.3,131.8 955.3,133.4 953.3,135.0 951.3,136.6 949.3,138.2 947.3,139.8 945.3,141.4 943.3,143.0 941.3,144.6 939.3,146.2 937.3,147.8 935.3,149.4 933.3,150.9 931.3,152.5 929.3,154.0 927.3,155.4 925.3,156.9 923.3,158.3 921.3,159.7 919.3,161.0 917.3,162.3 915.3,163.6 913.3,164.8 911.3,165.9 909.3,167.1 907.3,168.1 905.3,169.1 903.3,170.1 901.3,171.0 899.3,171.8 897.3,172.6 895.3,173.3 893.3,173.9 891.3,174.5 889.3,175.0 887.3,175.5 885.3,175.8 883.3,176.1 881.3,176.4 879.3,176.6 877.3,176.7 875.3,176.7 873.3,176.6 871.3,176.5 869.3,176.4 867.3,176.6 865.3,176.7 863.3,176.7 861.3,176.6 859.3,176.5 857.3,176.3 855.3,176.0" fill-opacity="0.15"/>
<polygon points="849.3,314.7 851.3,313.1 853.3,311.5 855.3,309.9 857.3,309.1 859.3,309.1 861.3,309.1 863.3,309.1 865.3,309.1 867.3,309.1 869.3,309.1 871.3,309.1 873.3,309.1 875.3,309.1 877.3,309.1 879.3,309.1 881.3,309.0 883.3,308.3 885.3,307.7 887.3,307.0 889.3,306.3 891.3,305.6 893.3,304.9 895.3,304.2 897.3,303.5 899.3,302.8 901.3,302.1 903.3,301.4 905.3,300.7 907.3,300.0 909.3,299.3 911.3,298.6 913.3,298.0 915.3,297.3 917.3,296.6 919.3,295.9 921.3,295.2 923.3,294.5 925.3,293.8 927.3,293.1 929.3,292.4 931.3,291.7 933.3,291.0 935.3,290.3 937.3,289.6 939.3,288.9 941.3,288.2 943.3,287.6 945.3,286.9 947.3,286.2 949.3,285.5 951.3,284.8 953.3,284.1 955.3,283.4 957.3,282.7 959.3,282.0 961.3,281.3 963.3,280.6 965.3,279.9 967.3,279.2 969.3,278.5 971.3,277.9 973.3,277.2 975.3,276.5 977.3,275.8 979.3,275.1 981.3,274.4 983.3,273.7 985.3,273.0 987.3,272.3 989.3,271.6 991.3,270.9 993.3,270.2 995.3,269.5 997.3,268.8 999.3,268.2 1001.3,267.5 1003.3,266.8 1005.3,266.1 1007.3,265.4 1009.3,264.7 1011.3,264.0 1013.3,263.3 1015.3,262.6 1017.3,261.9 1019.3,261.2 1021.3,260.5 1023.3,259.8 1025.3,259.1 1027.3,258.5 1029.3,257.8 1031.3,257.1 1033.3,256.4 1035.3,255.7 1037.3,255.0 1039.3,254.3 1041.3,253.6 1043.3,252.9 1045.3,252.2 1047.3,251.5 1049.3,250.8 1051.3,250.1 1053.3,249.4 1055.3,248.8 1057.3,248.1 1059.3,247.4 1061.3,246.7 1063.3,246.0 1065.3,245.3 1067.3,244.6 1069.3,243.9 1071.3,243.2 1073.3,242.5 1075.3,241.8 1077.3,241.1 1079.3,240.4 1081.3,239.7 1083.3,239.0 1085.3,238.4 1087.3,237.7 1089.3,237.0 1091.3,236.3 1093.3,235.6 1095.3,234.9 1097.3,234.2 1099.3,233.5 1101.3,232.8 1103.3,232.1 1105.3,231.4 1107.3,230.7 1109.3,230.0 1111.3,229.3 1113.3,228.7 1115.3,228.0 1117.3,227.3 1119.3,226.6 1121.3,225.9 1123.3,225.2 1125.3,224.5 1127.3,223.8 1129.3,223.1 1131.3,222.4 1133.3,221.7 1135.3,221.0 1137.3,220.3 1139.3,219.6 1141.3,219.0 1143.3,218.3 1145.3,217.6 1147.3,216.9 1149.3,216.2 1151.3,215.5 1153.3,214.8 1155.3,214.1 1157.3,213.4 1159.3,212.7 1161.3,212.0 1163.3,211.3 1165.3,210.6 1167.3,209.9 1169.3,209.3 1171.3,208.6 1173.3,207.9 1175.3,207.2 1177.3,206.5 1179.3,205.8 1181.3,205.1 1183.3,204.4 1185.3,203.7 1187.3,203.0 1189.3,202.3 1191.3,201.6 1193.3,200.9 1195.3,200.2 1197.3,199.5 1199.3,198.9 1201.3,198.2 1203.3,197.5 1205.3,196.8 1207.3,196.1 1209.3,195.4 1211.3,194.7 1213.3,194.0 1215.3,193.3 1217.3,192.6 1219.3,191.9 1221.3,191.2 1223.3,190.5 1225.3,189.8 1227.3,189.2 1229.3,188.5 1231.3,187.8 1233.3,187.1 1235.3,186.4 1237.3,185.7 1239.3,185.0 1239.3,191.4 1237.3,192.1 1235.3,192.8 1233.3,193.5 1231.3,194.2 1229.3,194.9 1227.3,195.6 1225.3,196.2 1223.3,196.9 1221.3,197.6 1219.3,198.3 1217.3,199.0 1215.3,199.7 1213.3,200.4 1211.3,201.1 1209.3,201.8 1207.3,202.5 1205.3,203.2 1203.3,203.9 1201.3,204.6 1199.3,205.3 1197.3,205.9 1195.3,206.6 1193.3,207.3 1191.3,208.0 1189.3,208.7 1187.3,209.4 1185.3,210.1 1183.3,210.8 1181.3,211.5 1179.3,212.2 1177.3,212.9 1175.3,213.6 1173.3,214.3 1171.3,215.0 1169.3,215.7 1167.3,216.3 1165.3,217.0 1163.3,217.7 1161.3,218.4 1159.3,219.1 1157.3,219.8 1155.3,220.5 1153.3,221.2 1151.3,221.9 1149.3,222.6 1147.3,223.3 1145.3,224.0 1143.3,224.7 1141.3,225.4 1139.3,226.0 1137.3,226.7 1135.3,227.4 1133.3,228.1 1131.3,228.8 1129.3,229.5 1127.3,230.2 1125.3,230.9 1123.3,231.6 1121.3,232.3 1119.3,233.0 1117.3,233.7 1115.3,234.4 1113.3,235.1 1111.3,235.7 1109.3,236.4 1107.3,237.1 1105.3,237.8 1103.3,238.5 1101.3,239.2 1099.3,239.9 1097.3,240.6 1095.3,241.3 1093.3,242.0 1091.3,242.7 1089.3,243.4 1087.3,244.1 1085.3,244.8 1083.3,245.4 1081.3,246.1 1079.3,246.8 1077.3,247.5 1075.3,248.2 1073.3,248.9 1071.3,249.6 1069.3,250.3 1067.3,251.0 1065.3,251.7 1063.3,252.4 1061.3,253.1 1059.3,253.8 1057.3,254.5 1055.3,255.2 1053.3,255.8 1051.3,256.5 1049.3,257.2 1047.3,257.9 1045.3,258.6 1043.3,259.3 1041.3,260.0 1039.3,260.7 1037.3,261.4 1035.3,262.1 1033.3,262.8 1031.3,263.5 1029.3,264.2 1027.3,264.9 1025.3,265.5 1023.3,266.2 1021.3,266.9 1019.3,267.6 1017.3,268.3 1015.3,269.0 1013.3,269.7 1011.3,270.4 1009.3,271.1 1007.3,271.8 1005.3,272.5 1003.3,273.2 1001.3,273.9 999.3,274.6 997.3,275.2 995.3,275.9 993.3,276.6 991.3,277.3 989.3,278.0 987.3,278.7 985.3,279.4 983.3,280.1 981.3,280.8 979.3,281.5 977.3,282.2 975.3,282.9 973.3,283.6 971.3,284.3 969.3,284.9 967.3,285.6 965.3,286.3 963.3,287.0 961.3,287.7 959.3,288.4 957.3,289.1 955.3,289.8 953.3,290.5 951.3,291.2 949.3,291.9 947.3,292.6 945.3,293.3 943.3,294.0 941.3,294.6 939.3,295.3 937.3,296.0 935.3,296.7 933.3,297.4 931.3,298.1 929.3,298.8 927.3,299.5 925.3,300.2 923.3,300.9 921.3,301.6 919.3,302.3 917.3,303.0 915.3,303.7 913.3,304.4 911.3,305.0 909.3,305.7 907.3,306.4 905.3,307.1 903.3,307.8 901.3,308.5 899.3,309.2 897.3,309.9 895.3,310.6 893.3,311.3 891.3,312.0 889.3,312.7 887.3,313.4 885.3,314.1 883.3,314.7 881.3,315.4 879.3,315.5 877.3,315.5 875.3,315.5 873.3,315.5 871.3,315.5 869.3,315.5 867.3,315.5 865.3,315.5 863.3,315.5 861.3,315.5 859.3,315.5 857.3,315.5 855.3,316.3 853.3,317.9 851.3,319.5 849.3,321.1" fill-opacity="0.10"/>
</g>
<g filter="url(#bT)" fill="none" stroke="#fff">
<path d="M855.3,172.9 L857.3,173.4 L859.3,173.8 L861.3,174.1 L863.3,174.3 L865.3,174.5 L867.3,174.6 L869.3,174.7 L871.3,174.7 L873.3,174.6 L875.3,174.4 L877.3,174.2 L879.3,173.9 L881.3,173.5 L883.3,173.1 L885.3,172.6 L887.3,172.0 L889.3,171.4 L891.3,170.7 L893.3,170.0 L895.3,169.1 L897.3,168.3 L899.3,167.3 L901.3,166.3 L903.3,165.3 L905.3,164.2 L907.3,163.0 L909.3,161.8 L911.3,160.6 L913.3,159.3 L915.3,158.0 L917.3,156.6 L919.3,155.2 L921.3,153.8 L923.3,152.4 L925.3,150.9 L927.3,149.3 L929.3,147.8 L931.3,146.3 L933.3,144.7 L935.3,143.1 L937.3,141.5 L939.3,139.9 L941.3,138.3 L943.3,136.7 L945.3,135.1 L947.3,133.5 L949.3,131.9 L951.3,130.4 L953.3,128.8 L955.3,127.3 L957.3,125.7 L959.3,124.2 L961.3,122.8 L963.3,121.3 L965.3,119.9 L967.3,118.5 L969.3,117.2 L971.3,115.9 L973.3,114.6 L975.3,113.4 L977.3,112.2 L979.3,111.1 L981.3,110.0 L983.3,109.0 L985.3,108.1 L987.3,107.2 L989.3,106.3 L991.3,105.5 L993.3,104.8 L995.3,104.1 L997.3,103.5 L999.3,103.0 L1001.3,102.6 L1003.3,102.2 L1005.3,101.8 L1007.3,101.6 L1009.3,101.4 L1011.3,101.3 L1013.3,101.2 L1015.3,101.2 L1017.3,101.3 L1019.3,101.5 L1021.3,101.7 L1023.3,102.0 L1025.3,102.4 L1027.3,102.8 L1029.3,103.3 L1031.3,103.9 L1033.3,104.5 L1035.3,105.2 L1037.3,105.9 L1039.3,106.8 L1041.3,107.6 L1043.3,108.6 L1045.3,109.6 L1047.3,110.6 L1049.3,111.7 L1051.3,112.8 L1053.3,114.0 L1055.3,115.3 L1057.3,116.6 L1059.3,117.9 L1061.3,119.2 L1063.3,120.6 L1065.3,122.1 L1067.3,123.5 L1069.3,125.0 L1071.3,126.5 L1073.3,128.1 L1075.3,129.6 L1077.3,131.2 L1079.3,132.8 L1081.3,134.4 L1083.3,136.0 L1085.3,137.6 L1087.3,139.2 L1089.3,140.8 L1091.3,142.4 L1093.3,143.9 L1095.3,145.5 L1097.3,147.1 L1099.3,148.6 L1101.3,150.2 L1103.3,151.7 L1105.3,153.1 L1107.3,154.6 L1109.3,156.0 L1111.3,157.4 L1113.3,158.7 L1115.3,160.0 L1117.3,161.3 L1119.3,162.5 L1121.3,163.7 L1123.3,164.8 L1125.3,165.8 L1127.3,166.9 L1129.3,167.8 L1131.3,168.7 L1133.3,169.6 L1135.3,170.4 L1137.3,171.1 L1139.3,171.7 L1141.3,172.3 L1143.3,172.9 L1145.3,173.3 L1147.3,173.7 L1149.3,174.1 L1151.3,174.3 L1153.3,174.5 L1155.3,174.6 L1157.3,174.7 L1159.3,174.7 L1161.3,174.6 L1163.3,174.4 L1165.3,174.2 L1167.3,173.9 L1169.3,173.5 L1171.3,173.1 L1173.3,172.6 L1175.3,172.1 L1177.3,171.4 L1179.3,170.7 L1181.3,170.0 L1183.3,169.2 L1185.3,168.3 L1187.3,167.3 L1189.3,166.4 L1191.3,165.3 L1193.3,164.2 L1195.3,163.1 L1197.3,161.9 L1199.3,160.6 L1201.3,159.4 L1203.3,158.1 L1205.3,156.8 L1207.3,155.5 L1209.3,154.2 L1211.3,153.0 L1213.3,151.7 L1215.3,150.5 L1217.3,149.3 L1219.3,148.1 L1221.3,146.9 L1223.3,145.8 L1225.3,144.7 L1227.3,143.7 L1229.3,142.6 L1231.3,141.6 L1233.3,140.7 L1235.3,139.8 L1237.3,138.9 L1239.3,138.1" stroke-width="2.2" stroke-opacity="0.06"/>
<path d="M855.3,172.9 L856.3,173.1 L857.3,173.4 L858.3,173.6 L859.3,173.8 L860.3,173.9 L861.3,174.1 L862.3,174.2 L863.3,174.3 L864.3,174.4 L865.3,174.5 L866.3,174.6 L867.3,174.6 L868.3,174.7 L869.3,174.7 L870.3,174.7 L871.3,174.7 L872.3,174.6 L873.3,174.6 L874.3,174.5 L875.3,174.4 L876.3,174.3 L877.3,174.2 L878.3,174.1 L879.3,173.9 L880.3,173.7 L881.3,173.5 L882.3,173.3 L883.3,173.1 L884.3,172.9 L885.3,172.6 L886.3,172.3 L887.3,172.0 L888.3,171.7" stroke-width="1.8" stroke-opacity="0.16"/>
<path d="M995.3,104.1 L996.3,103.8 L997.3,103.5 L998.3,103.3 L999.3,103.0 L1000.3,102.8 L1001.3,102.6 L1002.3,102.3 L1003.3,102.2 L1004.3,102.0 L1005.3,101.8 L1006.3,101.7 L1007.3,101.6 L1008.3,101.5 L1009.3,101.4 L1010.3,101.3 L1011.3,101.3 L1012.3,101.2 L1013.3,101.2 L1014.3,101.2 L1015.3,101.2 L1016.3,101.3 L1017.3,101.3 L1018.3,101.4 L1019.3,101.5 L1020.3,101.6 L1021.3,101.7 L1022.3,101.8 L1023.3,102.0 L1024.3,102.2 L1025.3,102.4 L1026.3,102.6 L1027.3,102.8 L1028.3,103.0 L1029.3,103.3 L1030.3,103.6 L1031.3,103.9 L1032.3,104.2" stroke-width="1.8" stroke-opacity="0.16"/>
<path d="M1139.3,171.7 L1140.3,172.1 L1141.3,172.3 L1142.3,172.6 L1143.3,172.9 L1144.3,173.1 L1145.3,173.3 L1146.3,173.6 L1147.3,173.7 L1148.3,173.9 L1149.3,174.1 L1150.3,174.2 L1151.3,174.3 L1152.3,174.4 L1153.3,174.5 L1154.3,174.6 L1155.3,174.6 L1156.3,174.7 L1157.3,174.7 L1158.3,174.7 L1159.3,174.7 L1160.3,174.6 L1161.3,174.6 L1162.3,174.5 L1163.3,174.4 L1164.3,174.3 L1165.3,174.2 L1166.3,174.1 L1167.3,173.9 L1168.3,173.7 L1169.3,173.5 L1170.3,173.3 L1171.3,173.1 L1172.3,172.9 L1173.3,172.6 L1174.3,172.3 L1175.3,172.1 L1176.3,171.7" stroke-width="1.8" stroke-opacity="0.16"/>
<path d="M1001.3,102.6 L1002.3,102.3 L1003.3,102.2 L1004.3,102.0 L1005.3,101.8 L1006.3,101.7 L1007.3,101.6 L1008.3,101.5 L1009.3,101.4 L1010.3,101.3 L1011.3,101.3 L1012.3,101.2 L1013.3,101.2 L1014.3,101.2 L1015.3,101.2 L1016.3,101.3 L1017.3,101.3 L1018.3,101.4 L1019.3,101.5 L1020.3,101.6 L1021.3,101.7 L1022.3,101.8 L1023.3,102.0 L1024.3,102.2 L1025.3,102.4 L1026.3,102.6" stroke-width="1.6" stroke-opacity="0.28"/>
<path d="M1145.3,173.3 L1146.3,173.6 L1147.3,173.7 L1148.3,173.9 L1149.3,174.1 L1150.3,174.2 L1151.3,174.3 L1152.3,174.4 L1153.3,174.5 L1154.3,174.6 L1155.3,174.6 L1156.3,174.7 L1157.3,174.7 L1158.3,174.7 L1159.3,174.7 L1160.3,174.6 L1161.3,174.6 L1162.3,174.5 L1163.3,174.4 L1164.3,174.3 L1165.3,174.2 L1166.3,174.1 L1167.3,173.9 L1168.3,173.7 L1169.3,173.5 L1170.3,173.3" stroke-width="1.6" stroke-opacity="0.28"/>
<path d="M1007.3,101.6 L1008.3,101.5 L1009.3,101.4 L1010.3,101.3 L1011.3,101.3 L1012.3,101.2 L1013.3,101.2 L1014.3,101.2 L1015.3,101.2 L1016.3,101.3 L1017.3,101.3 L1018.3,101.4 L1019.3,101.5 L1020.3,101.6" stroke-width="1.5" stroke-opacity="0.45"/>
<path d="M1151.3,174.3 L1152.3,174.4 L1153.3,174.5 L1154.3,174.6 L1155.3,174.6 L1156.3,174.7 L1157.3,174.7 L1158.3,174.7 L1159.3,174.7 L1160.3,174.6 L1161.3,174.6 L1162.3,174.5 L1163.3,174.4 L1164.3,174.3" stroke-width="1.5" stroke-opacity="0.45"/>
<path d="M879.3,312.3 L881.3,312.2 L883.3,311.5 L885.3,310.9 L887.3,310.2 L889.3,309.5 L891.3,308.8 L893.3,308.1 L895.3,307.4 L897.3,306.7 L899.3,306.0 L901.3,305.3 L903.3,304.6 L905.3,303.9 L907.3,303.2 L909.3,302.5 L911.3,301.8 L913.3,301.2 L915.3,300.5 L917.3,299.8 L919.3,299.1 L921.3,298.4 L923.3,297.7 L925.3,297.0 L927.3,296.3 L929.3,295.6 L931.3,294.9 L933.3,294.2 L935.3,293.5 L937.3,292.8 L939.3,292.1 L941.3,291.4 L943.3,290.8 L945.3,290.1 L947.3,289.4 L949.3,288.7 L951.3,288.0 L953.3,287.3 L955.3,286.6 L957.3,285.9 L959.3,285.2 L961.3,284.5 L963.3,283.8 L965.3,283.1 L967.3,282.4 L969.3,281.7 L971.3,281.1 L973.3,280.4 L975.3,279.7 L977.3,279.0 L979.3,278.3 L981.3,277.6 L983.3,276.9 L985.3,276.2 L987.3,275.5 L989.3,274.8 L991.3,274.1 L993.3,273.4 L995.3,272.7 L997.3,272.0 L999.3,271.4 L1001.3,270.7 L1003.3,270.0 L1005.3,269.3 L1007.3,268.6 L1009.3,267.9 L1011.3,267.2 L1013.3,266.5 L1015.3,265.8 L1017.3,265.1 L1019.3,264.4 L1021.3,263.7 L1023.3,263.0 L1025.3,262.3 L1027.3,261.7 L1029.3,261.0 L1031.3,260.3 L1033.3,259.6 L1035.3,258.9 L1037.3,258.2 L1039.3,257.5 L1041.3,256.8 L1043.3,256.1 L1045.3,255.4 L1047.3,254.7 L1049.3,254.0 L1051.3,253.3 L1053.3,252.6 L1055.3,252.0 L1057.3,251.3 L1059.3,250.6 L1061.3,249.9 L1063.3,249.2 L1065.3,248.5 L1067.3,247.8 L1069.3,247.1 L1071.3,246.4 L1073.3,245.7 L1075.3,245.0 L1077.3,244.3 L1079.3,243.6 L1081.3,242.9 L1083.3,242.2 L1085.3,241.6 L1087.3,240.9 L1089.3,240.2 L1091.3,239.5 L1093.3,238.8 L1095.3,238.1 L1097.3,237.4 L1099.3,236.7 L1101.3,236.0 L1103.3,235.3 L1105.3,234.6 L1107.3,233.9 L1109.3,233.2 L1111.3,232.5 L1113.3,231.9 L1115.3,231.2 L1117.3,230.5 L1119.3,229.8 L1121.3,229.1 L1123.3,228.4 L1125.3,227.7 L1127.3,227.0 L1129.3,226.3 L1131.3,225.6 L1133.3,224.9 L1135.3,224.2 L1137.3,223.5 L1139.3,222.8 L1141.3,222.2 L1143.3,221.5 L1145.3,220.8 L1147.3,220.1 L1149.3,219.4 L1151.3,218.7 L1153.3,218.0 L1155.3,217.3 L1157.3,216.6 L1159.3,215.9 L1161.3,215.2 L1163.3,214.5 L1165.3,213.8 L1167.3,213.1 L1169.3,212.5 L1171.3,211.8 L1173.3,211.1 L1175.3,210.4 L1177.3,209.7 L1179.3,209.0 L1181.3,208.3 L1183.3,207.6 L1185.3,206.9 L1187.3,206.2 L1189.3,205.5 L1191.3,204.8 L1193.3,204.1 L1195.3,203.4 L1197.3,202.7 L1199.3,202.1 L1201.3,201.4 L1203.3,200.7 L1205.3,200.0 L1207.3,199.3 L1209.3,198.6 L1211.3,197.9 L1213.3,197.2 L1215.3,196.5 L1217.3,195.8 L1219.3,195.1 L1221.3,194.4 L1223.3,193.7 L1225.3,193.0 L1227.3,192.4 L1229.3,191.7 L1231.3,191.0 L1233.3,190.3 L1235.3,189.6" stroke-width="2.4" stroke-opacity="0.15"/>
<path d="M851,159 C857,153 866,154 873,161 S886,169 894,169.5" stroke-width="2" stroke-opacity="0.11"/>
<path d="M846,327 C850,333 858,333 862,326" stroke-width="1.6" stroke-opacity="0.06"/>
<path d="M849.3,317.9 L851.3,316.3 L853.3,314.7 L855.3,313.1 L857.3,312.3 L859.3,312.3 L861.3,312.3 L863.3,312.3 L865.3,312.3 L867.3,312.3 L869.3,312.3 L871.3,312.3 L873.3,312.3 L875.3,312.3 L877.3,312.3 L879.3,312.3" stroke-width="1.6" stroke-opacity="0.10"/>
<path d="M869.3,312.3 L871.3,312.3 L873.3,312.3 L875.3,312.3 L877.3,312.3" stroke-width="1.6" stroke-opacity="0.45"/>
</g>
</g></g>
<rect x="95.5" y="28.5" width="435" height="384.5" fill="none" stroke="#000" stroke-width="1"/>
<path d="M95.5,413.0 v-4.5 M95.5,28.5 v4.5 M95.5,413.0 h4.5 M530.5,413.0 h-4.5 M182.5,413.0 v-4.5 M182.5,28.5 v4.5 M95.5,336.1 h4.5 M530.5,336.1 h-4.5 M269.5,413.0 v-4.5 M269.5,28.5 v4.5 M95.5,259.2 h4.5 M530.5,259.2 h-4.5 M356.5,413.0 v-4.5 M356.5,28.5 v4.5 M95.5,182.3 h4.5 M530.5,182.3 h-4.5 M443.5,413.0 v-4.5 M443.5,28.5 v4.5 M95.5,105.4 h4.5 M530.5,105.4 h-4.5 M530.5,413.0 v-4.5 M530.5,28.5 v4.5 M95.5,28.5 h4.5 M530.5,28.5 h-4.5" stroke="#000" stroke-opacity="0.75" stroke-width="1" fill="none"/>
<text class="tk" x="96.0" y="439.5" text-anchor="middle">0</text>
<text class="tk" x="182.9" y="439.5" text-anchor="middle">0.1</text>
<text class="tk" x="269.9" y="439.5" text-anchor="middle">0.2</text>
<text class="tk" x="356.9" y="439.5" text-anchor="middle">0.3</text>
<text class="tk" x="443.9" y="439.5" text-anchor="middle">0.4</text>
<text class="tk" x="531.0" y="439.5" text-anchor="middle">0.5</text>
<text class="tk" x="90.3" y="421.2" text-anchor="end">0</text>
<text class="tk" x="90.3" y="344.3" text-anchor="end">100</text>
<text class="tk" x="90.3" y="267.4" text-anchor="end">200</text>
<text class="tk" x="90.3" y="190.5" text-anchor="end">300</text>
<text class="tk" x="90.3" y="113.6" text-anchor="end">400</text>
<text class="tk" x="90.3" y="36.7" text-anchor="end">500</text>
<text class="lb" style="font-size:26.7px" transform="translate(310.0,469.1) scale(0.972,1)" text-anchor="middle">Time (s)</text>
<text class="lb" style="font-size:27px;letter-spacing:1.3px" transform="translate(34.9,218.5) rotate(-90) scale(0.87,1)" text-anchor="middle">Frequency (Hz)</text>
<rect x="556.5" y="28.5" width="35" height="386.5" fill="url(#cb)" stroke="#000" stroke-width="1"/>
<path d="M556.5,337.7 h4 M591.5,337.7 h-4 M556.5,260.4 h4 M591.5,260.4 h-4 M556.5,183.1 h4 M591.5,183.1 h-4 M556.5,105.8 h4 M591.5,105.8 h-4" stroke="#000" stroke-width="1" fill="none"/>
<text class="tk" x="595.0" y="423.6">0</text>
<text class="tk" x="595.0" y="346.3">0.2</text>
<text class="tk" x="595.0" y="269.0">0.4</text>
<text class="tk" x="595.0" y="191.7">0.6</text>
<text class="tk" x="595.0" y="114.4">0.8</text>
<text class="tk" x="595.0" y="37.1">1</text>
<rect x="116.3" y="220.3" width="26.2" height="75.9" fill="none" stroke="#ffff30" stroke-width="2.3"/>
<rect x="269.7" y="220.8" width="85.6" height="90.5" fill="none" stroke="#f01cf0" stroke-width="1.8"/>
<rect x="813.3" y="28.5" width="436.9" height="384.5" fill="none" stroke="#000" stroke-width="1"/>
<path d="M813.3,413.0 v-4.5 M813.3,28.5 v4.5 M813.3,413.0 h4.5 M1250.2,413.0 h-4.5 M900.7,413.0 v-4.5 M900.7,28.5 v4.5 M813.3,336.1 h4.5 M1250.2,336.1 h-4.5 M988.1,413.0 v-4.5 M988.1,28.5 v4.5 M813.3,259.2 h4.5 M1250.2,259.2 h-4.5 M1075.4,413.0 v-4.5 M1075.4,28.5 v4.5 M813.3,182.3 h4.5 M1250.2,182.3 h-4.5 M1162.8,413.0 v-4.5 M1162.8,28.5 v4.5 M813.3,105.4 h4.5 M1250.2,105.4 h-4.5 M1250.2,413.0 v-4.5 M1250.2,28.5 v4.5 M813.3,28.5 h4.5 M1250.2,28.5 h-4.5" stroke="#000" stroke-opacity="0.75" stroke-width="1" fill="none"/>
<text class="tk" x="813.8" y="439.5" text-anchor="middle">0</text>
<text class="tk" x="901.1" y="439.5" text-anchor="middle">0.1</text>
<text class="tk" x="988.5" y="439.5" text-anchor="middle">0.2</text>
<text class="tk" x="1075.9" y="439.5" text-anchor="middle">0.3</text>
<text class="tk" x="1163.3" y="439.5" text-anchor="middle">0.4</text>
<text class="tk" x="1250.7" y="439.5" text-anchor="middle">0.5</text>
<text class="tk" x="808.1" y="421.2" text-anchor="end">0</text>
<text class="tk" x="808.1" y="344.3" text-anchor="end">100</text>
<text class="tk" x="808.1" y="267.4" text-anchor="end">200</text>
<text class="tk" x="808.1" y="190.5" text-anchor="end">300</text>
<text class="tk" x="808.1" y="113.6" text-anchor="end">400</text>
<text class="tk" x="808.1" y="36.7" text-anchor="end">500</text>
<text class="lb" style="font-size:26.7px" transform="translate(1028.8,469.1) scale(0.972,1)" text-anchor="middle">Time (s)</text>
<text class="lb" style="font-size:27px;letter-spacing:1.3px" transform="translate(752.7,218.5) rotate(-90) scale(0.87,1)" text-anchor="middle">Frequency (Hz)</text>
<rect x="1275.8" y="28.5" width="35" height="386.5" fill="url(#cb)" stroke="#000" stroke-width="1"/>
<path d="M1275.8,337.7 h4 M1310.8,337.7 h-4 M1275.8,260.4 h4 M1310.8,260.4 h-4 M1275.8,183.1 h4 M1310.8,183.1 h-4 M1275.8,105.8 h4 M1310.8,105.8 h-4" stroke="#000" stroke-width="1" fill="none"/>
<text class="tk" x="1314.3" y="423.6">0</text>
<text class="tk" x="1314.3" y="346.3">0.2</text>
<text class="tk" x="1314.3" y="269.0">0.4</text>
<text class="tk" x="1314.3" y="191.7">0.6</text>
<text class="tk" x="1314.3" y="114.4">0.8</text>
<text class="tk" x="1314.3" y="37.1">1</text>
<rect x="834.9" y="218.8" width="25.8" height="77.7" fill="none" stroke="#fbf02c" stroke-width="2.6"/>
<rect x="987.9" y="219.4" width="86.0" height="91.3" fill="none" stroke="#f01cf0" stroke-width="2"/>
<text class="cap" x="344.9" y="515.2" text-anchor="middle"><tspan font-size="35.4px">(</tspan><tspan font-weight="bold" font-size="32px" dx="0.8">a</tspan><tspan font-size="35.4px" dx="0.8">)</tspan></text>
<text class="cap" x="1063.2" y="515.2" text-anchor="middle"><tspan font-size="35.4px">(</tspan><tspan font-weight="bold" font-size="35px" dx="0.8">b</tspan><tspan font-size="35.4px" dx="0.8">)</tspan></text>
</svg></body></html>
